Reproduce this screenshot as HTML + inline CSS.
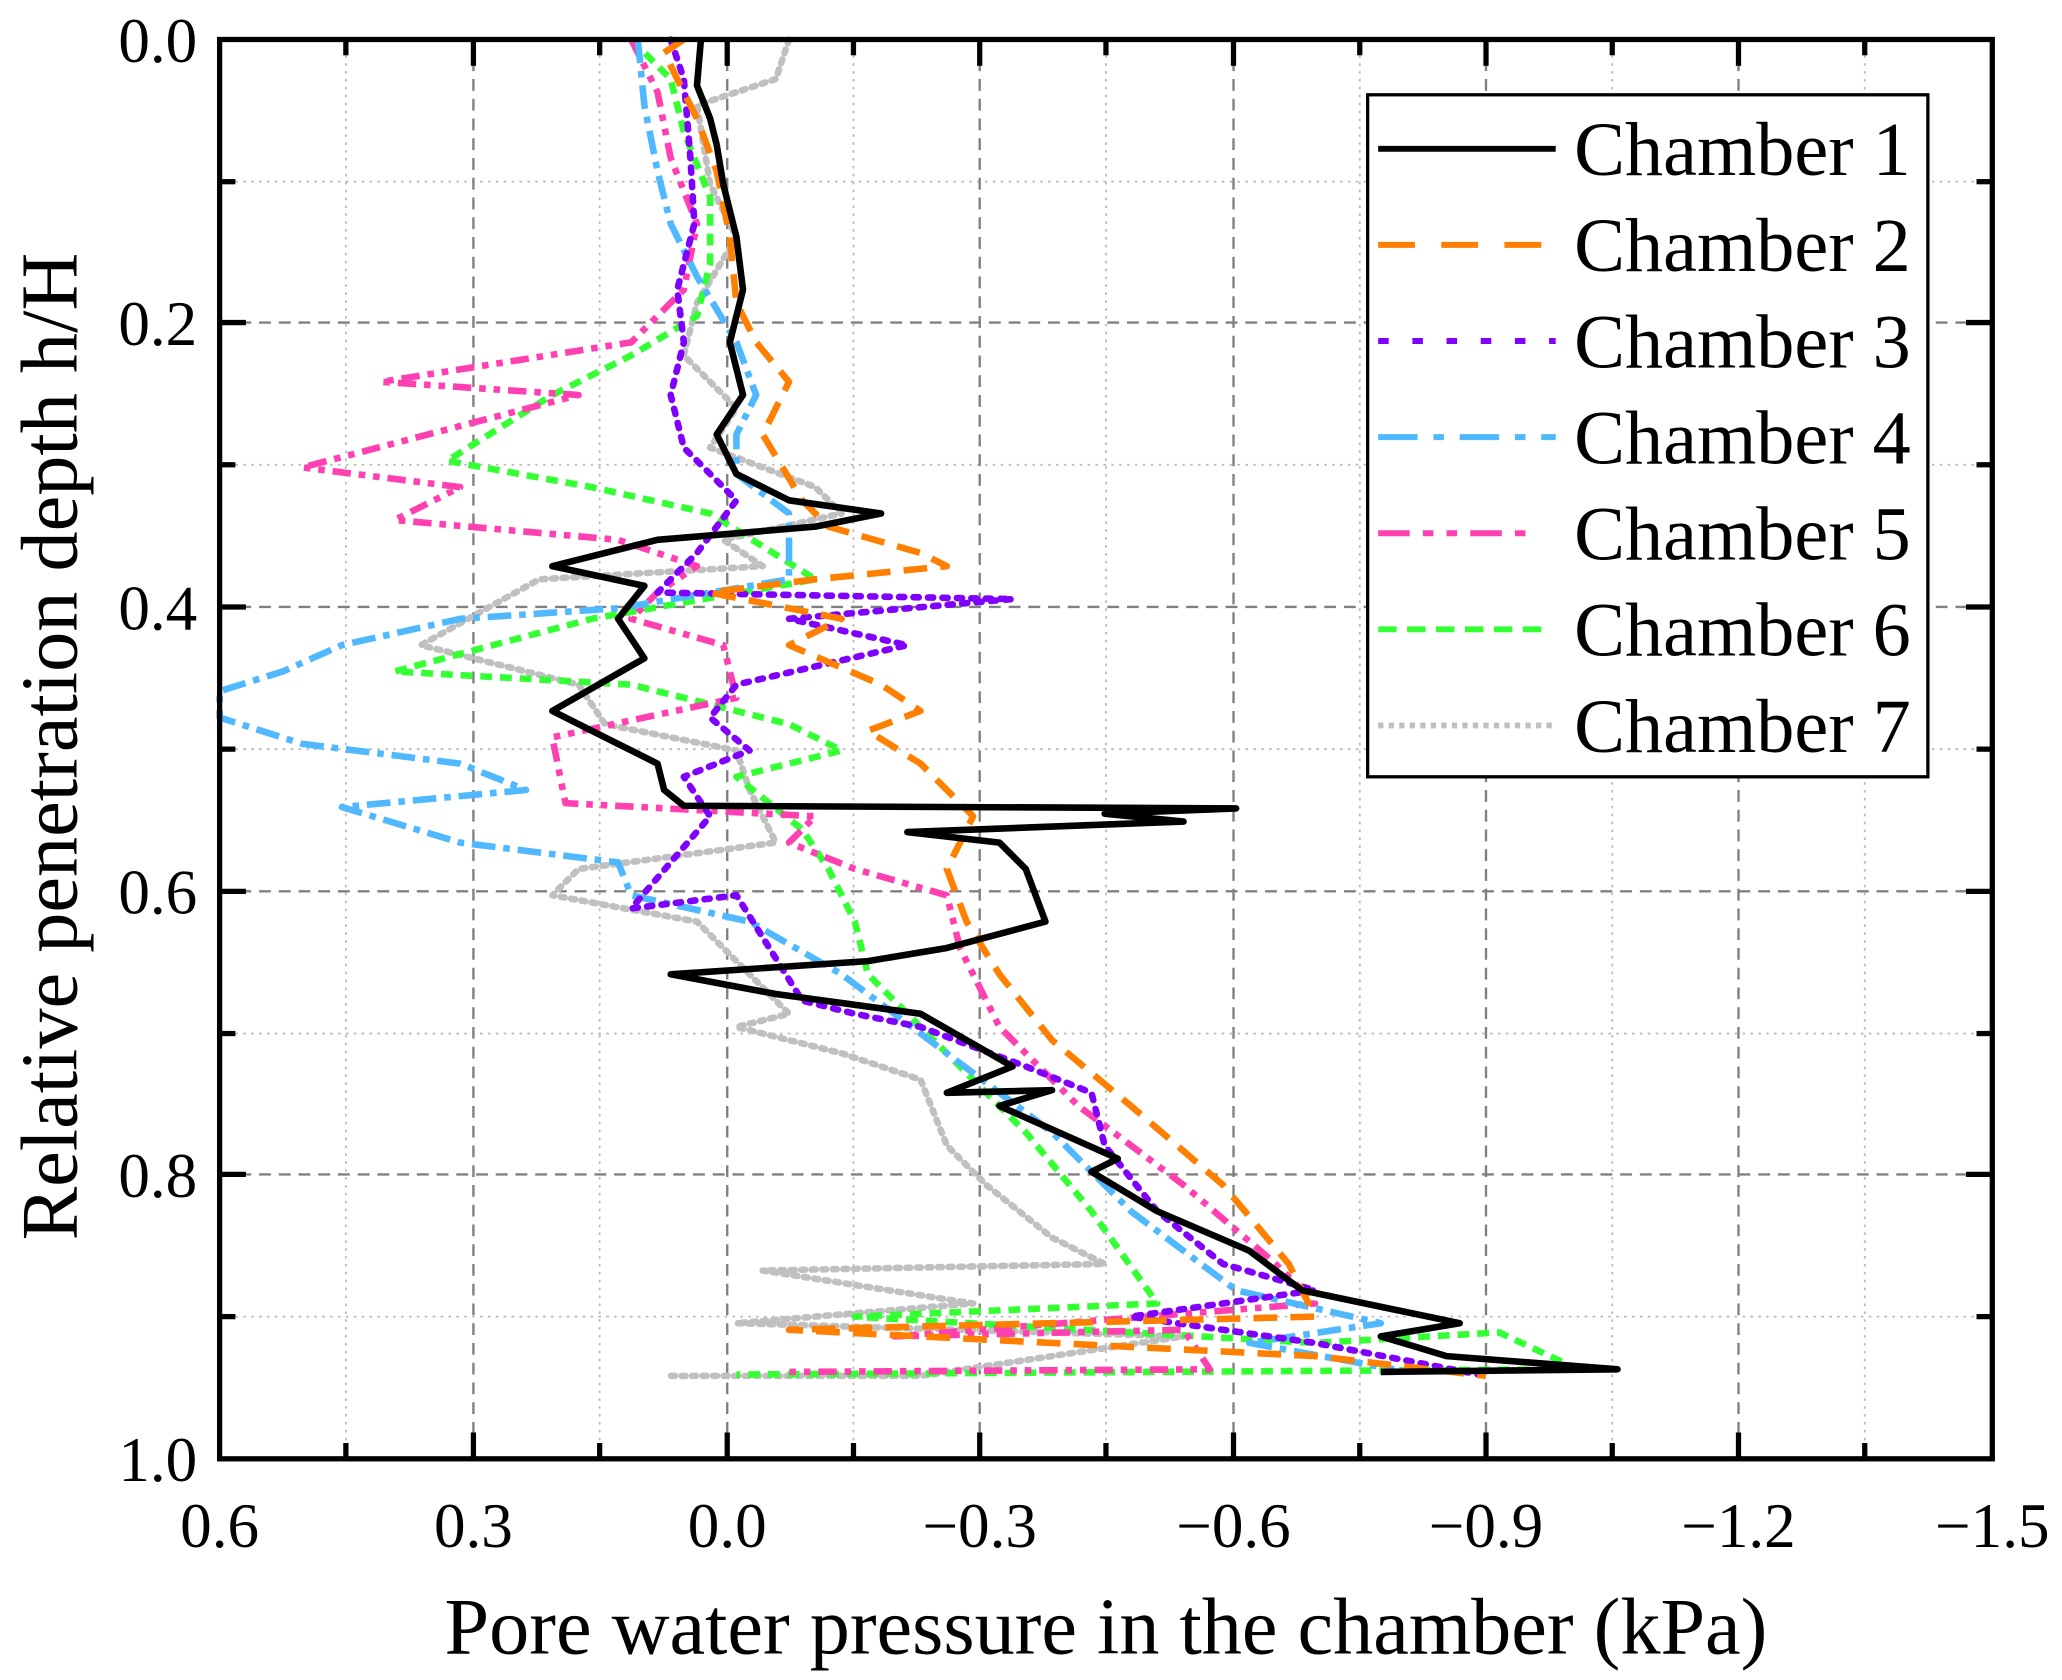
<!DOCTYPE html>
<html><head><meta charset="utf-8"><style>
html,body{margin:0;padding:0;background:#fff;}
svg{display:block;}
text{font-family:"Liberation Serif","DejaVu Serif",serif;fill:#000;}
.d{fill:none;stroke-width:5;stroke-linejoin:round;}
</style></head><body>
<svg width="2062" height="1680" viewBox="0 0 1568 1276" preserveAspectRatio="none" xmlns="http://www.w3.org/2000/svg">
<rect width="1568" height="1276" fill="#fff"/>
<g stroke="#bbb" stroke-width="1.4" stroke-dasharray="2,4">
<line x1="263" y1="30" x2="263" y2="1108"/><line x1="456" y1="30" x2="456" y2="1108"/><line x1="649" y1="30" x2="649" y2="1108"/><line x1="841" y1="30" x2="841" y2="1108"/><line x1="1034" y1="30" x2="1034" y2="1108"/><line x1="1226" y1="30" x2="1226" y2="1108"/><line x1="1418" y1="30" x2="1418" y2="1108"/>
<line x1="167" y1="138" x2="1515" y2="138"/><line x1="167" y1="353" x2="1515" y2="353"/><line x1="167" y1="569" x2="1515" y2="569"/><line x1="167" y1="785" x2="1515" y2="785"/><line x1="167" y1="1000" x2="1515" y2="1000"/>
</g>
<g stroke="#808080" stroke-width="1.8" stroke-dasharray="9,6">
<line x1="360" y1="30" x2="360" y2="1108"/><line x1="553" y1="30" x2="553" y2="1108"/><line x1="745" y1="30" x2="745" y2="1108"/><line x1="938" y1="30" x2="938" y2="1108"/><line x1="1130" y1="30" x2="1130" y2="1108"/><line x1="1322" y1="30" x2="1322" y2="1108"/>
<line x1="167" y1="245" x2="1515" y2="245"/><line x1="167" y1="461" x2="1515" y2="461"/><line x1="167" y1="677" x2="1515" y2="677"/><line x1="167" y1="892" x2="1515" y2="892"/>
</g>
<polyline class="d" stroke="#c0c0c0" stroke-dasharray="3,5" stroke-linecap="round" points="600,30 590,60 530,80 540,140 560,180 530,230 520,270 560,310 540,340 620,370 640,390 550,410 580,430 410,440 320,490 440,520 460,550 560,570 570,600 590,640 440,660 420,680 530,700 570,740 600,770 560,780 640,800 700,820 720,870 750,900 800,940 840,960 580,965 740,990 560,1005 900,1015 700,1045 510,1045"/>
<polyline class="d" stroke="#33ff33" stroke-dasharray="9,6" points="480,30 510,60 520,100 540,150 540,200 530,240 480,270 420,300 340,350 450,370 540,390 620,440 450,470 300,510 480,520 600,550 640,570 560,590 610,630 630,660 650,700 660,740 720,800 780,860 830,920 880,990 650,1000 1000,1020 1140,1012 1200,1040 560,1044"/>
<polyline class="d" stroke="#ff40b0" stroke-dasharray="14,6,5,6,5,6" points="480,30 500,70 510,120 530,170 520,220 480,260 290,290 440,300 230,355 350,370 300,395 470,410 530,430 500,450 480,470 550,490 560,530 420,560 430,610 620,620 600,640 650,660 720,680 730,720 760,780 820,840 900,900 970,960 1000,990 680,1015 900,1010 920,1040 600,1042"/>
<polyline class="d" stroke="#4fb8ff" stroke-dasharray="18,6,5,6" points="485,30 490,80 500,130 510,170 530,210 560,260 575,300 560,330 560,360 600,390 600,440 470,462 350,470 260,490 215,510 167,525 167,545 230,565 350,580 400,600 260,613 350,640 470,655 480,680 570,700 640,740 720,800 800,860 860,920 940,980 1050,1005 950,1020 1060,1040"/>
<polyline class="d" stroke="#8000ff" stroke-dasharray="4,7" stroke-linecap="round" points="510,30 520,60 525,120 528,170 515,220 520,260 510,300 520,340 560,380 530,420 500,450 770,455 600,470 690,490 560,520 540,545 570,570 520,590 540,620 480,690 560,680 610,760 650,770 700,780 780,810 830,830 840,870 880,920 930,960 1000,980 860,1000 1000,1020 1130,1045"/>
<polyline class="d" stroke="#ff8000" stroke-dasharray="18,10" points="520,30 505,40 530,90 545,130 555,180 560,230 575,260 600,290 580,330 610,380 630,400 700,420 720,430 620,440 540,450 640,470 600,490 670,520 700,540 660,555 700,580 740,620 720,660 735,700 760,740 800,790 860,840 930,900 980,960 1000,1000 600,1010 1000,1030 1130,1045"/>
<polyline class="d" stroke="#000" stroke-width="5.5" points="533,30 530,65 540,90 545,110 550,140 560,180 565,220 555,260 565,300 545,330 560,360 600,380 670,390 620,400 500,410 420,430 490,445 470,470 490,500 420,540 470,565 500,580 505,600 520,612 940,614 840,618 900,624 690,632 760,640 780,660 795,700 720,720 660,730 510,740 590,755 700,770 770,810 720,830 800,828 760,840 850,880 830,890 880,920 950,950 990,980 1110,1005 1050,1015 1100,1030 1230,1040 1050,1042"/>
<g stroke="#000" stroke-width="4">
<line x1="360" y1="1108" x2="360" y2="1088"/><line x1="553" y1="1108" x2="553" y2="1088"/><line x1="745" y1="1108" x2="745" y2="1088"/><line x1="938" y1="1108" x2="938" y2="1088"/><line x1="1130" y1="1108" x2="1130" y2="1088"/><line x1="1322" y1="1108" x2="1322" y2="1088"/>
<line x1="263" y1="1108" x2="263" y2="1096"/><line x1="456" y1="1108" x2="456" y2="1096"/><line x1="649" y1="1108" x2="649" y2="1096"/><line x1="841" y1="1108" x2="841" y2="1096"/><line x1="1034" y1="1108" x2="1034" y2="1096"/><line x1="1226" y1="1108" x2="1226" y2="1096"/><line x1="1418" y1="1108" x2="1418" y2="1096"/>
<line x1="360" y1="30" x2="360" y2="50"/><line x1="553" y1="30" x2="553" y2="50"/><line x1="745" y1="30" x2="745" y2="50"/><line x1="938" y1="30" x2="938" y2="50"/><line x1="1130" y1="30" x2="1130" y2="50"/><line x1="1322" y1="30" x2="1322" y2="50"/>
<line x1="263" y1="30" x2="263" y2="42"/><line x1="456" y1="30" x2="456" y2="42"/><line x1="649" y1="30" x2="649" y2="42"/><line x1="841" y1="30" x2="841" y2="42"/><line x1="1034" y1="30" x2="1034" y2="42"/><line x1="1226" y1="30" x2="1226" y2="42"/><line x1="1418" y1="30" x2="1418" y2="42"/>
<line x1="167" y1="245" x2="187" y2="245"/><line x1="167" y1="461" x2="187" y2="461"/><line x1="167" y1="677" x2="187" y2="677"/><line x1="167" y1="892" x2="187" y2="892"/>
<line x1="167" y1="138" x2="179" y2="138"/><line x1="167" y1="353" x2="179" y2="353"/><line x1="167" y1="569" x2="179" y2="569"/><line x1="167" y1="785" x2="179" y2="785"/><line x1="167" y1="1000" x2="179" y2="1000"/>
<line x1="1515" y1="245" x2="1495" y2="245"/><line x1="1515" y1="461" x2="1495" y2="461"/><line x1="1515" y1="677" x2="1495" y2="677"/><line x1="1515" y1="892" x2="1495" y2="892"/>
<line x1="1515" y1="138" x2="1503" y2="138"/><line x1="1515" y1="353" x2="1503" y2="353"/><line x1="1515" y1="569" x2="1503" y2="569"/><line x1="1515" y1="785" x2="1503" y2="785"/><line x1="1515" y1="1000" x2="1503" y2="1000"/>
</g>
<rect x="167" y="30" width="1348" height="1078" fill="none" stroke="#000" stroke-width="4"/>
<rect x="1040" y="72" width="426" height="518" fill="#fff" stroke="#000" stroke-width="2.5"/>
<g stroke-width="4.5">
<line x1="1048" y1="113" x2="1183" y2="113" stroke="#000"/>
<line x1="1048" y1="186" x2="1183" y2="186" stroke="#ff8000" stroke-dasharray="28,20"/>
<line x1="1048" y1="259" x2="1183" y2="259" stroke="#8000ff" stroke-dasharray="8,18"/>
<line x1="1048" y1="332" x2="1183" y2="332" stroke="#4fb8ff" stroke-dasharray="30,12,8,12"/>
<line x1="1048" y1="405" x2="1170" y2="405" stroke="#ff40b0" stroke-dasharray="24,10,8,10,8,10"/>
<line x1="1048" y1="478" x2="1178" y2="478" stroke="#33ff33" stroke-dasharray="14,8"/>
<line x1="1048" y1="551" x2="1180" y2="551" stroke="#c0c0c0" stroke-dasharray="4,4"/>
</g>
<g font-size="58">
<text x="1197" y="133">Chamber 1</text>
<text x="1197" y="206">Chamber 2</text>
<text x="1197" y="279">Chamber 3</text>
<text x="1197" y="352">Chamber 4</text>
<text x="1197" y="425">Chamber 5</text>
<text x="1197" y="498">Chamber 6</text>
<text x="1197" y="571">Chamber 7</text>
</g>
<g font-size="48" text-anchor="middle">
<text x="167" y="1175">0.6</text><text x="360" y="1175">0.3</text><text x="553" y="1175">0.0</text>
<text x="745" y="1175">−0.3</text><text x="938" y="1175">−0.6</text><text x="1130" y="1175">−0.9</text>
<text x="1322" y="1175">−1.2</text><text x="1515" y="1175">−1.5</text>
</g>
<g font-size="48" text-anchor="end">
<text x="150" y="47">0.0</text><text x="150" y="262">0.2</text><text x="150" y="478">0.4</text>
<text x="150" y="694">0.6</text><text x="150" y="909">0.8</text><text x="150" y="1125">1.0</text>
</g>
<text x="841" y="1256" font-size="61" text-anchor="middle">Pore water pressure in the chamber (kPa)</text>
<text transform="translate(58,567) rotate(-90)" font-size="61" text-anchor="middle">Relative penetration depth h/H</text>
</svg>
</body></html>
